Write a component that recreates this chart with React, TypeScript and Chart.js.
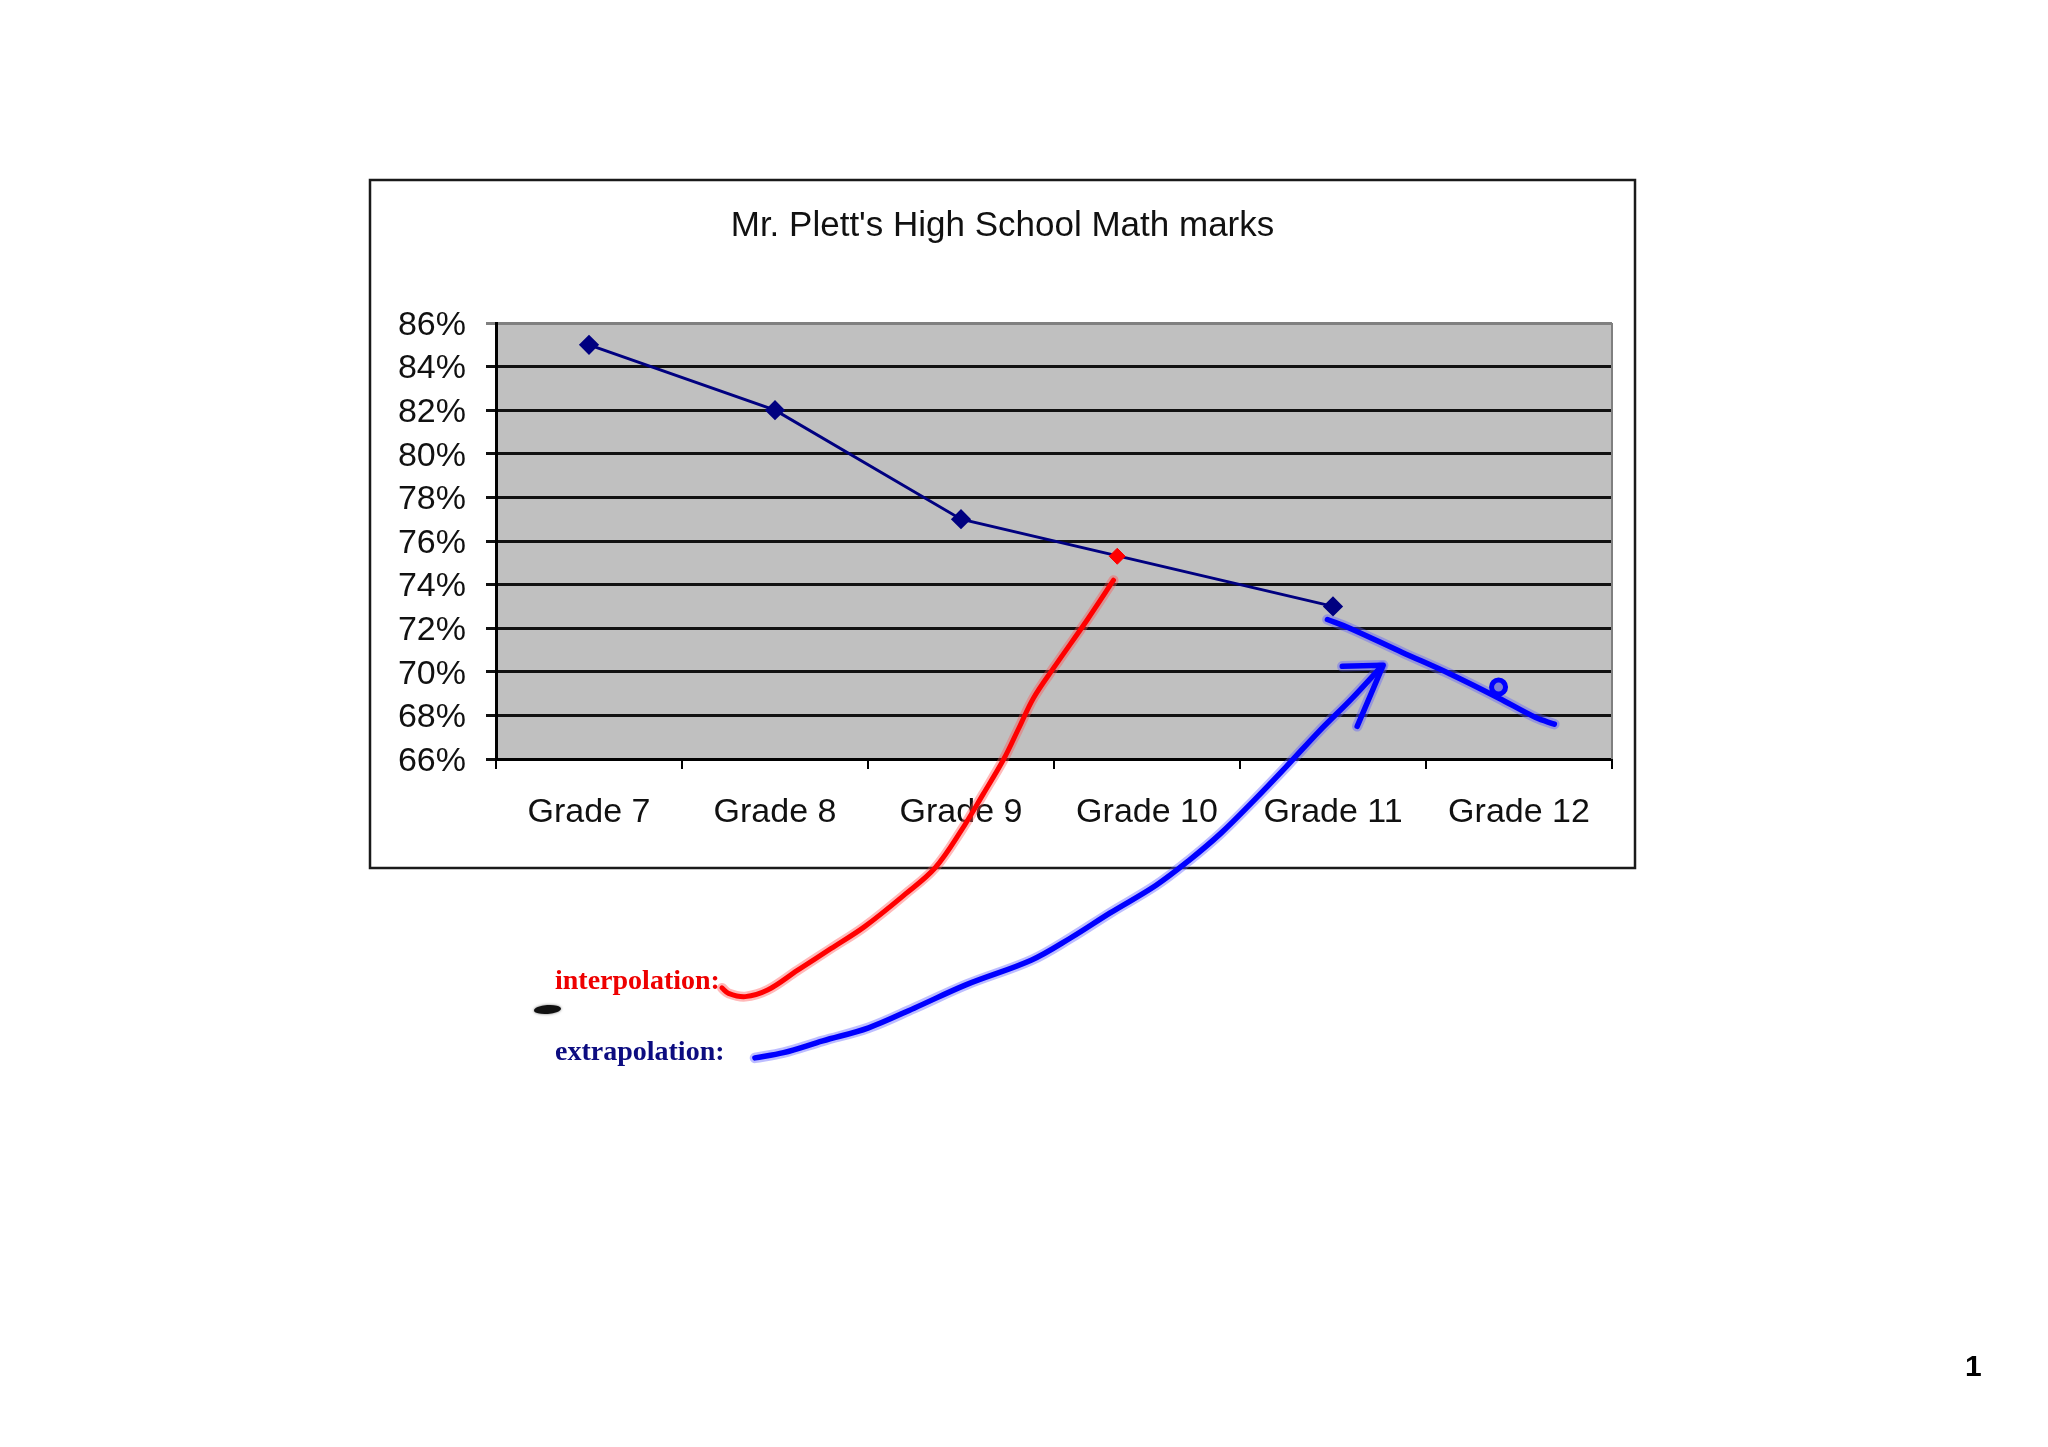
import React, { useEffect, useRef } from "react";
import { Chart, registerables } from "chart.js";

Chart.register(...registerables);

// ---------- data ----------
const TITLE = "Mr. Plett's High School Math marks";
const GRADES = ["Grade 7", "Grade 8", "Grade 9", "Grade 10", "Grade 11", "Grade 12"];
const MARKS = [85, 82, 77, null, 73, null];
const Y_MIN = 66;
const Y_MAX = 86;
const Y_STEP = 2;

// hand-drawn annotations, in chart units (x = grade index, y = percent)
const INTERP_STROKE_X = [2.82, 2.68, 2.5, 2.39, 2.31, 2.23, 2.12, 2.0, 1.86, 1.7, 1.48, 1.3, 1.12, 0.96, 0.84, 0.75, 0.715];
const INTERP_STROKE_Y = [74.2, 72.4, 70.2, 68.8, 67.4, 66.0, 64.4, 62.7, 61.0, 59.8, 58.3, 57.3, 56.3, 55.4, 55.1, 55.25, 55.5];
const INTERP_POINT_X = [2.84];
const INTERP_POINT_Y = [75.3];

const EXTRAP_STROKE_X = [0.892, 1.046, 1.257, 1.503, 1.748, 2.029, 2.38, 2.591, 2.802, 3.047, 3.223, 3.398, 3.574, 3.749, 3.925, 4.101, 4.262];
const EXTRAP_STROKE_Y = [52.29, 52.53, 53.07, 53.67, 54.57, 55.65, 56.78, 57.8, 58.94, 60.2, 61.33, 62.6, 64.09, 65.65, 67.27, 68.77, 70.26];
const ARROW_X = [4.05, 4.27, 4.13];
const ARROW_Y = [70.25, 70.3, 67.5];
const EXTRAP_LINE_X = [3.97, 4.09, 4.37, 4.63, 4.89, 5.09, 5.19];
const EXTRAP_LINE_Y = [72.4, 72.0, 70.9, 69.9, 68.8, 67.9, 67.6];
const EXTRAP_POINT_X = [4.89];
const EXTRAP_POINT_Y = [69.3];

const INTERP_LABEL = "interpolation:";
const EXTRAP_LABEL = "extrapolation:";
const PAGE_NUMBER = "1";

// ---------- styling ----------
const SANS = '"Liberation Sans", Arial, Helvetica, sans-serif';
const SERIF = '"Liberation Serif", "Times New Roman", serif';
const NAVY = "#000080";
const RED = "#ff0000";
const BLUE = "#0000ff";

const zip = (xs: number[], ys: number[]) => xs.map((x, i) => ({ x, y: ys[i] }));

const pagePlugin = {
  id: "pageDecor",
  beforeDraw(chart: any) {
    const { ctx, chartArea, width, height } = chart;
    const pad = chart.options.layout.padding;
    ctx.save();
    ctx.fillStyle = "#ffffff";
    ctx.fillRect(0, 0, width, height);
    ctx.fillStyle = "#c0c0c0";
    ctx.fillRect(chartArea.left, chartArea.top, chartArea.right - chartArea.left, chartArea.bottom - chartArea.top);
    ctx.strokeStyle = "#1a1a1a";
    ctx.lineWidth = 2.5;
    ctx.strokeRect(pad.left, pad.top, width - pad.left - pad.right, height - pad.top - pad.bottom);
    ctx.restore();
  },
  beforeDatasetsDraw(chart: any) {
    const { ctx, chartArea } = chart;
    ctx.save();
    ctx.strokeStyle = "#808080";
    ctx.lineWidth = 2;
    ctx.beginPath();
    ctx.moveTo(chartArea.right, chartArea.top);
    ctx.lineTo(chartArea.right, chartArea.bottom);
    ctx.stroke();
    ctx.restore();
  },
};

function strokeDatasets(xs: number[], ys: number[], color: string, halo: string, width: number, order: number, tension = 0.35) {
  const data = zip(xs, ys);
  const common = {
    type: "line" as const,
    xAxisID: "xa",
    yAxisID: "y",
    data,
    pointRadius: 0,
    tension,
    clip: false as any,
    borderCapStyle: "round" as const,
    borderJoinStyle: "round" as const,
    fill: false,
  };
  return [
    { ...common, borderColor: color, borderWidth: width, order },
    { ...common, borderColor: halo, borderWidth: width + 5, order: order + 1 },
  ];
}

export default function App() {
  const canvasRef = useRef<HTMLCanvasElement>(null);

  useEffect(() => {
    if (!canvasRef.current) return;
    const chart = new Chart(canvasRef.current, {
      type: "line",
      data: {
        labels: GRADES,
        datasets: [
          ...strokeDatasets(INTERP_STROKE_X, INTERP_STROKE_Y, RED, "rgba(255,80,80,0.4)", 5, 1),
          ...strokeDatasets(EXTRAP_STROKE_X, EXTRAP_STROKE_Y, BLUE, "rgba(90,90,255,0.4)", 5.5, 1),
          ...strokeDatasets(EXTRAP_LINE_X, EXTRAP_LINE_Y, BLUE, "rgba(90,90,255,0.4)", 5.5, 1),
          ...strokeDatasets(ARROW_X, ARROW_Y, BLUE, "rgba(90,90,255,0.4)", 5.5, 1, 0),
          {
            type: "line",
            xAxisID: "xa",
            yAxisID: "y",
            data: zip(INTERP_POINT_X, INTERP_POINT_Y),
            showLine: false,
            pointStyle: "rectRot",
            pointRadius: 8,
            backgroundColor: RED,
            borderColor: RED,
            borderWidth: 1,
            clip: false as any,
            order: 0,
          },
          {
            type: "line",
            xAxisID: "xa",
            yAxisID: "y",
            data: zip(EXTRAP_POINT_X, EXTRAP_POINT_Y),
            showLine: false,
            pointStyle: "circle",
            pointRadius: 7,
            backgroundColor: "rgba(0,0,255,0.35)",
            borderColor: BLUE,
            borderWidth: 5,
            clip: false as any,
            order: 0,
          },
          {
            type: "line",
            label: "Marks",
            xAxisID: "x",
            yAxisID: "y",
            data: MARKS,
            spanGaps: true,
            borderColor: NAVY,
            borderWidth: 3,
            backgroundColor: NAVY,
            pointStyle: "rectRot",
            pointRadius: 8,
            pointBackgroundColor: NAVY,
            pointBorderColor: NAVY,
            tension: 0,
            order: 10,
          },
        ] as any,
      },
      options: {
        responsive: false,
        maintainAspectRatio: false,
        devicePixelRatio: 1,
        animation: false,
        layout: { padding: { left: 370, right: 413, top: 180, bottom: 579 } },
        plugins: {
          legend: { display: false },
          tooltip: { enabled: false },
          title: {
            display: true,
            text: TITLE,
            color: "#111",
            font: { family: SANS, size: 35, weight: "normal", lineHeight: 1.2 },
            padding: { top: 25.5, bottom: 75.5 },
          },
        },
        scales: {
          x: {
            type: "category",
            offset: true,
            grid: {
              display: true,
              drawOnChartArea: false,
              drawTicks: true,
              tickLength: 10,
              color: "#000",
              lineWidth: 2,
              offset: true,
            },
            border: { display: true, color: "#000", width: 3 },
            ticks: {
              color: "#111",
              font: { family: SANS, size: 34 },
              padding: 23,
              maxRotation: 0,
              autoSkip: false,
            },
            afterFit: (s: any) => {
              s.height = 109;
            },
          },
          xa: {
            type: "linear",
            min: -0.5,
            max: 5.5,
            display: false,
          },
          y: {
            type: "linear",
            position: "left",
            min: Y_MIN,
            max: Y_MAX,
            ticks: {
              stepSize: Y_STEP,
              autoSkip: false,
              color: "#111",
              font: { family: SANS, size: 34 },
              padding: 20,
              labelOffset: 2.5,
              callback: (v: any) => `${v}%`,
            },
            grid: {
              color: (c: any) => (c.tick && c.tick.value === Y_MAX ? "#808080" : "#111"),
              lineWidth: 3,
              tickLength: 10,
              drawTicks: true,
            },
            border: { display: true, color: "#000", width: 3 },
            afterFit: (s: any) => {
              s.width = 126;
            },
          },
          yr: {
            type: "linear",
            position: "right",
            display: true,
            grid: { display: false, drawTicks: false },
            border: { display: false },
            ticks: { display: false },
            afterFit: (s: any) => {
              s.width = 23;
            },
          },
        } as any,
      },
      plugins: [pagePlugin],
    });
    return () => chart.destroy();
  }, []);

  return (
    <div
      style={{
        position: "absolute",
        left: 0,
        top: 0,
        width: 2048,
        height: 1447,
        background: "#fff",
        overflow: "hidden",
      }}
    >
      <canvas
        ref={canvasRef}
        width={2048}
        height={1447}
        style={{ position: "absolute", left: 0, top: 0, width: 2048, height: 1447 }}
      />
      <div
        style={{
          position: "absolute",
          left: 555,
          top: 966,
          font: `bold 28px ${SERIF}`,
          lineHeight: "28px",
          color: "#ee0000",
          whiteSpace: "nowrap",
        }}
      >
        {INTERP_LABEL}
      </div>
      <div
        style={{
          position: "absolute",
          left: 555,
          top: 1037,
          font: `bold 28px ${SERIF}`,
          lineHeight: "28px",
          color: "#0c0c80",
          whiteSpace: "nowrap",
        }}
      >
        {EXTRAP_LABEL}
      </div>
      <div
        style={{
          position: "absolute",
          left: 534,
          top: 1005,
          width: 27,
          height: 9,
          borderRadius: "50%",
          background: "#111",
          boxShadow: "0 0 3px #777",
          transform: "rotate(-4deg)",
        }}
      />
      <div
        style={{
          position: "absolute",
          left: 1965,
          top: 1351,
          font: `bold 30px ${SANS}`,
          lineHeight: "30px",
          color: "#000",
        }}
      >
        {PAGE_NUMBER}
      </div>
    </div>
  );
}
